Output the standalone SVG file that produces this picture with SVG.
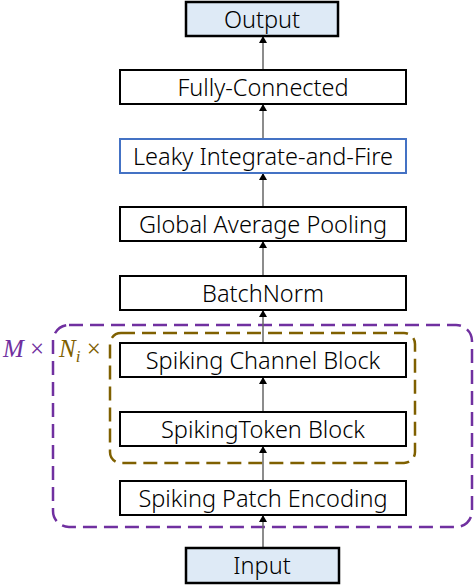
<svg xmlns="http://www.w3.org/2000/svg" width="474" height="585" viewBox="0 0 474 585">
<defs>
<style>
.box{fill:#fff;stroke:#000;stroke-width:2}
.io{fill:#DEEAF6;stroke:#000;stroke-width:2.5}
.lif{fill:#fff;stroke:#4472C4;stroke-width:2}
.t{font-family:"Noto Sans","DejaVu Sans",sans-serif;font-size:23.5px;font-weight:300;fill:#000;text-anchor:middle;dominant-baseline:central}
.c{stroke:#666;stroke-width:1.5;fill:none;marker-end:url(#ah)}
.m{font-family:"Liberation Serif","DejaVu Serif",serif;font-size:25px;font-style:italic}
</style>
<marker id="ah" markerWidth="8" markerHeight="8" refX="6" refY="4" orient="auto" markerUnits="userSpaceOnUse">
<path d="M0,0 L7,4 L0,8 Z" fill="#000"/>
</marker>
</defs>
<g id="repeat-outer">
<rect x="53" y="325" width="419" height="202" rx="16" fill="none" stroke="#7030A0" stroke-width="2.5" stroke-dasharray="14,7"/>
<text x="3" y="357" class="m" fill="#7030A0">M <tspan font-style="normal">×</tspan></text>
</g>
<g id="repeat-inner">
<rect x="110" y="333" width="305" height="130" rx="11" fill="none" stroke="#7F6000" stroke-width="2.5" stroke-dasharray="14,7"/>
<text x="59" y="357" class="m" fill="#7F6000">N<tspan font-size="17" dy="5">i</tspan><tspan font-style="normal" dy="-5"> ×</tspan></text>
</g>
<g id="connectors">
<line class="c" x1="263" y1="548" x2="263" y2="516"/>
<line class="c" x1="263" y1="481" x2="263" y2="447"/>
<line class="c" x1="263" y1="412" x2="263" y2="378"/>
<line class="c" x1="263" y1="343" x2="263" y2="311"/>
<line class="c" x1="263" y1="276" x2="263" y2="242"/>
<line class="c" x1="263" y1="207" x2="263" y2="174"/>
<line class="c" x1="263" y1="139" x2="263" y2="105"/>
<line class="c" x1="263" y1="70" x2="263" y2="37"/>
</g>
<g id="output"><rect class="io" x="186" y="2" width="152" height="34"/><text class="t" x="262" y="19">Output</text></g>
<g id="fc"><rect class="box" x="120" y="70" width="286" height="34"/><text class="t" x="263" y="87">Fully-Connected</text></g>
<g id="lif"><rect class="lif" x="120" y="139" width="286" height="34"/><text class="t" x="263" y="156">Leaky Integrate-and-Fire</text></g>
<g id="gap"><rect class="box" x="120" y="207" width="286" height="34"/><text class="t" x="263" y="224">Global Average Pooling</text></g>
<g id="bn"><rect class="box" x="120" y="276" width="286" height="34"/><text class="t" x="263" y="293">BatchNorm</text></g>
<g id="scb"><rect class="box" x="120" y="343" width="286" height="34"/><text class="t" x="263" y="360">Spiking Channel Block</text></g>
<g id="stb"><rect class="box" x="120" y="412" width="286" height="34"/><text class="t" x="263" y="429">SpikingToken Block</text></g>
<g id="spe"><rect class="box" x="120" y="481" width="286" height="34"/><text class="t" x="263" y="498">Spiking Patch Encoding</text></g>
<g id="input"><rect class="io" x="186" y="548" width="153" height="35"/><text class="t" x="262" y="565">Input</text></g>
</svg>
